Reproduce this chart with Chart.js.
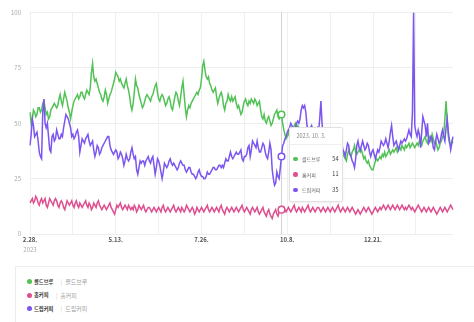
<!DOCTYPE html>
<html lang="ko">
<head>
<meta charset="utf-8">
<title>콜드브루 · 홈커피 · 드립커피</title>
<script src="https://cdn.jsdelivr.net/npm/chart.js@4.4.1/dist/chart.umd.min.js"></script>
<style>
  html, body { margin: 0; padding: 0; background: #fff; }
  body {
    width: 474px; height: 322px; overflow: hidden; position: relative;
    font-family: 'Noto Sans CJK KR', 'Noto Sans', sans-serif;
  }
  #chartWrap { position: absolute; left: 0; top: 0; width: 474px; height: 258px; }

  /* 툴팁 */
  #tip {
    position: absolute; display: none; width: 52px;
    background: #fff; border: 1px solid #e2e2e2; border-radius: 2px;
    box-shadow: 0 1px 3px rgba(0, 0, 0, 0.07); pointer-events: none;
  }
  .tip-title {
    height: 16px; line-height: 16px; padding-left: 6px;
    font-size: 5.5px; color: #8a8a8a; border-bottom: 1px solid #efefef;
  }
  .tip-body { padding: 6px 0 3px; }
  .tip-row {
    display: flex; align-items: center; height: 15.5px;
    padding: 0 4px 0 3px; font-size: 5px; color: #555;
  }
  .tip-row i { width: 4.5px; height: 4.5px; border-radius: 50%; margin-right: 4px; }
  .tip-row b { margin-left: auto; font-weight: normal; font-size: 5.5px; color: #333; }

  /* 범례 */
  #legend {
    position: absolute; left: 15px; top: 266px; width: 470px; height: 60px;
    border: 1px solid #ececec; box-sizing: border-box; padding: 8px 0 0 11px;
  }
  .lg-row { display: flex; align-items: center; height: 13.5px; }
  .lg-row i { width: 5px; height: 5px; border-radius: 50%; margin-right: 2px; }
  .lg-row b { font-size: 5.3px; color: #333; }
  .lg-row .sep { font-size: 6px; color: #d0d0d0; margin: 0 3px 0 7px; }
  .lg-row .sub { font-size: 6px; color: #a0a0a0; }
</style>
</head>
<body>
<div id="chartWrap"><canvas id="trendChart"></canvas></div>
<div id="tip"><div class="tip-title"></div><div class="tip-body"></div></div>
<div id="legend"></div>

<script>
// 일별 검색 추이 (2023-02-28 ~ 2024-02-28)
const START_DATE = '2023-02-28';
const HOVER_INDEX = 217;   // 2023-10-03
const TICK_STEP = 74;      // 날짜 라벨 간격(일)
const GRID_STEP = 37;      // 세로 그리드 간격(일)

const SERIES_NAMES = ['콜드브루', '홈커피', '드립커피'];
const SERIES_COLORS = ['#52c256', '#de4f8f', '#7b55ef'];

const coldBrew = [
  55,50,52,56,55,53,54,57,57,55,56,59,60,57,54,55,52,53,56,57,58,59,58,57,58,61,63,60,58,61,64,62,60,57,55,52,55,
  58,60,61,62,63,61,62,64,64,62,61,63,65,64,63,66,73,77,71,69,70,68,66,64,63,61,60,62,65,63,59,61,63,64,66,68,70,
  73,72,71,69,70,68,67,66,68,70,67,65,62,58,56,59,64,70,67,66,63,61,59,57,58,60,62,63,62,61,60,62,63,65,67,68,64,
  61,60,62,63,62,60,58,59,61,62,60,57,56,59,62,64,63,60,58,62,66,69,63,57,53,56,58,57,59,60,61,62,63,64,63,65,66,
  70,76,78,74,71,70,71,68,67,65,64,65,66,62,59,61,63,64,62,58,56,59,60,63,61,60,62,60,61,62,59,57,58,56,54,55,58,
  60,61,59,58,60,59,61,60,59,61,60,58,59,60,56,53,52,54,51,50,52,53,51,49,50,52,54,55,56,53,52,53,54,50,47,45,43,
  44,46,44,46,48,47,49,50,48,49,48,47,45,46,44,43,45,42,41,43,44,41,40,42,40,39,41,43,40,38,40,39,37,39,41,38,37,
  39,38,36,38,40,37,39,38,36,37,39,37,35,34,33,36,38,36,35,37,38,40,37,36,37,38,37,38,36,34,35,33,32,33,31,30,29,
  29,31,33,34,33,34,35,34,36,35,37,35,36,37,38,36,37,38,37,38,39,37,38,39,38,40,39,38,40,39,40,41,39,40,41,40,39,
  40,41,40,42,41,40,42,43,44,42,41,43,44,42,45,43,41,42,40,38,39,41,42,44,45,52,60,51,44,41,40,42,41
];

const homeCoffee = [
  14,15,16,14,15,17,16,14,13,15,16,14,15,16,13,12,14,16,15,14,13,15,16,15,13,12,14,15,14,12,11,13,15,14,13,14,15,
  13,12,14,15,13,12,14,13,12,13,14,15,13,12,14,13,11,12,14,13,12,14,15,13,12,11,12,13,12,11,12,13,14,12,11,10,9,
  11,13,12,13,14,12,11,12,13,12,11,13,12,11,12,11,13,12,10,11,13,12,11,12,13,11,10,11,12,12,11,10,11,12,11,10,11,
  12,11,10,12,13,11,10,11,12,11,10,11,12,13,11,10,11,12,11,10,12,11,10,11,13,12,11,10,11,12,11,9,10,12,11,10,11,
  12,11,10,11,12,13,11,10,11,12,11,10,11,12,11,10,12,13,11,10,9,11,12,11,10,11,12,11,10,11,12,11,10,11,12,13,11,
  10,11,12,11,10,9,11,12,11,10,11,12,10,9,10,11,12,10,9,8,10,11,9,8,7,9,10,11,9,8,10,12,11,10,12,11,10,
  11,12,11,10,11,12,13,11,10,11,12,11,10,12,11,10,11,12,13,11,10,11,12,11,10,11,12,12,11,10,11,12,11,10,11,12,11,
  10,11,12,11,10,11,12,13,11,10,11,12,11,10,11,12,11,10,11,12,11,10,9,10,11,10,9,10,11,12,11,10,11,12,11,10,9,
  10,11,12,11,10,11,12,11,12,13,12,11,12,13,12,11,12,13,12,11,12,13,12,11,12,13,12,11,12,11,12,13,12,11,12,11,10,
  11,12,13,12,11,10,11,12,11,10,11,12,11,10,11,12,11,10,9,10,11,12,11,10,11,12,11,10,11,12,13,12,11
];

const dripCoffee = [
  40,45,52,49,44,45,46,42,37,35,34,55,61,50,48,50,44,38,37,44,45,42,43,47,45,43,43,45,44,48,51,54,53,52,50,48,44,
  45,43,44,46,47,44,37,40,43,42,41,43,44,45,42,40,41,42,38,35,37,40,39,36,37,39,40,41,42,43,44,44,40,38,37,36,37,
  38,37,34,35,37,36,34,31,33,36,34,33,34,37,39,36,34,35,29,27,30,33,32,33,33,31,33,34,35,33,32,34,35,31,27,30,34,
  33,31,28,25,28,32,31,30,31,33,34,32,31,32,31,30,29,30,32,33,32,31,31,29,28,29,30,30,28,27,27,26,25,26,28,29,27,
  26,26,25,25,26,28,27,27,28,29,30,30,29,29,30,31,31,30,31,30,32,34,33,33,35,37,35,34,35,36,37,36,36,37,38,34,33,
  35,35,36,39,40,35,38,42,41,40,39,42,39,37,37,39,41,40,37,35,34,37,41,38,29,25,22,23,28,26,25,30,35,40,41,43,44,
  46,47,48,50,49,48,47,48,50,51,50,52,56,58,57,58,55,49,47,46,48,49,47,46,45,47,48,46,52,60,50,44,41,43,40,42,39,
  41,43,40,38,41,39,42,40,37,39,41,38,37,35,38,41,40,36,35,33,32,30,34,40,42,39,38,40,42,40,38,39,41,40,37,35,37,
  38,36,34,36,38,37,39,42,41,40,41,43,41,39,42,46,49,44,40,41,42,40,38,40,42,41,42,43,42,43,45,47,45,44,55,100,49,
  46,44,47,45,39,46,53,51,49,44,50,41,42,44,43,39,38,42,45,43,41,42,45,47,44,42,48,52,46,42,38,41,44
];

const SERIES_VALUES = [coldBrew, homeCoffee, dripCoffee];

// 날짜 배열 만들기
function buildDates(start, count) {
  const out = [];
  const [y, m, d] = start.split('-').map(Number);
  for (let i = 0; i < count; i++) {
    out.push(new Date(y, m - 1, d + i));
  }
  return out;
}

const dates = buildDates(START_DATE, coldBrew.length);
const labels = dates.map(d => d.getFullYear() + '-' + (d.getMonth() + 1) + '-' + d.getDate());

// 세로 기준선 (마우스 올린 위치)
const hoverLine = {
  id: 'hoverLine',
  beforeDatasetsDraw(chart) {
    const active = chart.getActiveElements();
    if (!active.length) return;
    const x = active[0].element.x;
    const { top, bottom } = chart.chartArea;
    const ctx = chart.ctx;
    ctx.save();
    ctx.strokeStyle = '#d2d2d2';
    ctx.lineWidth = 1;
    ctx.beginPath();
    ctx.moveTo(Math.round(x) + 0.5, top);
    ctx.lineTo(Math.round(x) + 0.5, bottom);
    ctx.stroke();
    ctx.restore();
  }
};

// 첫 날짜 아래 연도 표시
const yearLabel = {
  id: 'yearLabel',
  afterDraw(chart) {
    const xScale = chart.scales.x;
    const ctx = chart.ctx;
    ctx.save();
    ctx.font = '6px "Noto Sans CJK KR", "Noto Sans", sans-serif';
    ctx.fillStyle = '#aaaaaa';
    ctx.textAlign = 'center';
    ctx.textBaseline = 'middle';
    ctx.fillText(String(dates[0].getFullYear()), xScale.getPixelForTick(0), xScale.top + 16);
    ctx.restore();
  }
};

function renderTooltip(context) {
  const tooltip = context.tooltip;
  const tip = document.getElementById('tip');
  if (!tooltip.dataPoints || !tooltip.dataPoints.length) {
    tip.style.display = 'none';
    return;
  }
  const points = tooltip.dataPoints.slice().sort((a, b) => a.datasetIndex - b.datasetIndex);
  const d = dates[points[0].dataIndex];
  tip.querySelector('.tip-title').textContent =
    d.getFullYear() + '. ' + (d.getMonth() + 1) + '. ' + d.getDate() + '.';
  const body = tip.querySelector('.tip-body');
  body.innerHTML = '';
  points.forEach(p => {
    const row = document.createElement('div');
    row.className = 'tip-row';
    row.innerHTML = '<i style="background:' + SERIES_COLORS[p.datasetIndex] + '"></i>' +
      '<span>' + p.dataset.label + '</span><b>' + p.raw + '</b>';
    body.appendChild(row);
  });
  tip.style.display = 'block';
  tip.style.left = (tooltip.caretX + 8) + 'px';
  tip.style.top = (tooltip.caretY - 33) + 'px';
}

function buildLegend() {
  const legend = document.getElementById('legend');
  SERIES_NAMES.forEach((name, k) => {
    const row = document.createElement('div');
    row.className = 'lg-row';
    row.innerHTML = '<i style="background:' + SERIES_COLORS[k] + '"></i><b>' + name + '</b>' +
      '<span class="sep">|</span><span class="sub">' + name + '</span>';
    legend.appendChild(row);
  });
}

let chart;

function initializeChart() {
  Chart.defaults.font.family = '"Noto Sans CJK KR", "Noto Sans", sans-serif';
  const ctx = document.getElementById('trendChart').getContext('2d');

  // 드립커피가 맨 위에 그려지도록 order 지정
  const datasets = SERIES_NAMES.map((name, k) => ({
    label: name,
    data: SERIES_VALUES[k],
    borderColor: SERIES_COLORS[k],
    borderWidth: 1.5,
    tension: 0,
    fill: false,
    pointRadius: 0,
    pointHoverRadius: 3.3,
    pointHoverBorderWidth: 1.5,
    pointHoverBackgroundColor: '#fff',
    pointHoverBorderColor: SERIES_COLORS[k],
    order: [2, 1, 0][k]
  }));

  chart = new Chart(ctx, {
    type: 'line',
    data: { labels: labels, datasets: datasets },
    plugins: [hoverLine, yearLabel],
    options: {
      responsive: true,
      maintainAspectRatio: false,
      animation: false,
      events: [],
      layout: { padding: { top: 5, right: 21, left: 0, bottom: 0 } },
      interaction: { mode: 'index', intersect: false },
      plugins: {
        legend: { display: false },
        tooltip: { enabled: false, animation: false, external: renderTooltip }
      },
      scales: {
        x: {
          afterFit: s => { s.height = 24; },
          border: { display: false },
          grid: {
            drawTicks: false,
            color: c => (c.index % GRID_STEP === 0 ? '#efefef' : 'rgba(0,0,0,0)')
          },
          ticks: {
            autoSkip: false,
            maxRotation: 0,
            padding: 2,
            color: '#555',
            font: { size: 6, weight: 'bold' },
            callback: (value, index) => {
              if (index % TICK_STEP !== 0) return '';
              const d = dates[index];
              return (d.getMonth() + 1) + '.' + d.getDate() + '.';
            }
          }
        },
        y: {
          min: 0,
          max: 100,
          afterFit: s => { s.width = 30; },
          border: { display: false },
          grid: { drawTicks: false, color: '#ededed' },
          ticks: { stepSize: 25, padding: 9, color: '#a8a8a8', font: { size: 6 } }
        }
      }
    }
  });

  const active = datasets.map((_, k) => ({ datasetIndex: k, index: HOVER_INDEX }));
  chart.setActiveElements(active);
  chart.tooltip.setActiveElements(active, { x: 0, y: 0 });
  chart.update();
}

buildLegend();
initializeChart();
</script>
</body>
</html>
